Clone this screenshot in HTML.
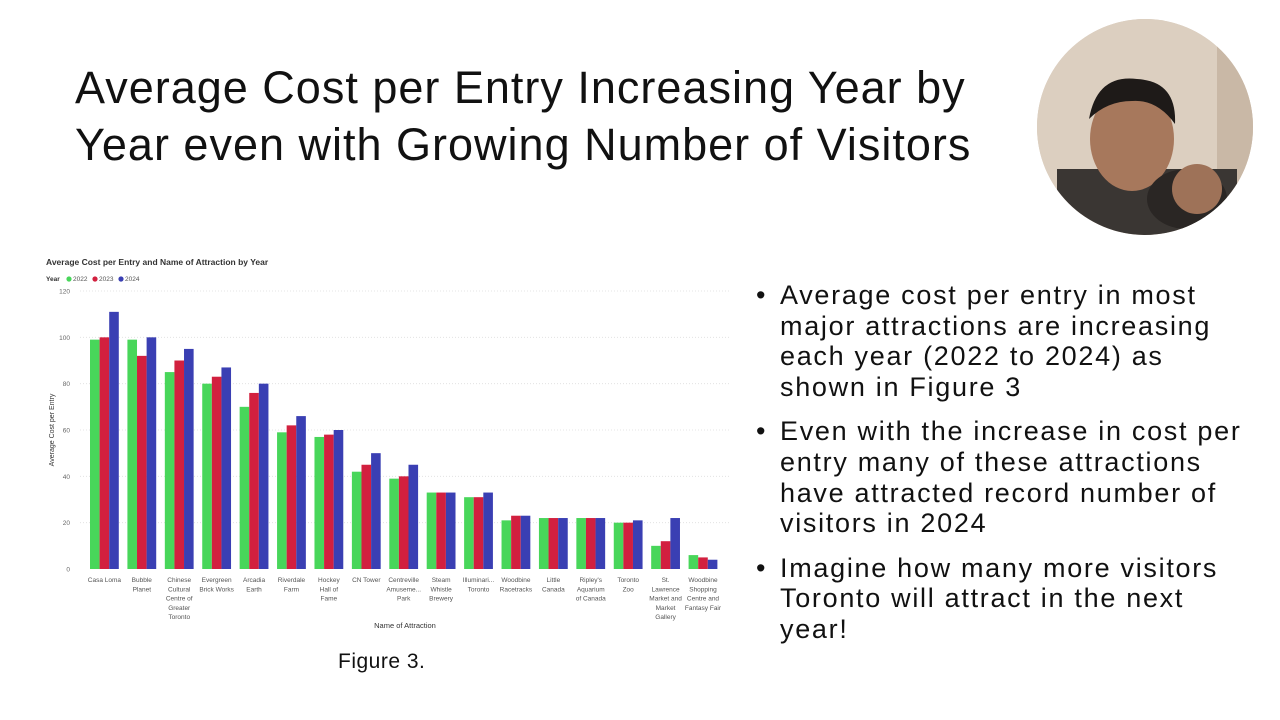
<!DOCTYPE html>
<html><head><meta charset="utf-8">
<style>
body{margin:0;width:1280px;height:720px;background:#fff;position:relative;overflow:hidden;font-family:"Liberation Sans",sans-serif;color:#111}
.title{position:absolute;left:75px;top:59px;font-size:45px;line-height:57px;letter-spacing:1px;white-space:nowrap}
.bullets{position:absolute;left:756px;top:280px;font-size:27px;line-height:30.6px;letter-spacing:1.7px;white-space:nowrap}
.bullet{position:relative;padding-left:24px;margin-bottom:14px}
.bullet:before{content:"•";position:absolute;left:0;top:0}
.fig{position:absolute;left:338px;top:650px;font-size:21px;letter-spacing:0.5px}
.cam{position:absolute;left:1037px;top:19px;width:216px;height:216px;border-radius:50%;overflow:hidden;background:#d8cbbc}
</style></head><body>
<div class="title">Average Cost per Entry Increasing Year by<br>Year even with Growing Number of Visitors</div>
<div class="cam">
<svg width="216" height="216">
<rect x="0" y="0" width="216" height="216" fill="#dccfc0"/>
<rect x="180" y="0" width="40" height="216" fill="#c9b8a6"/>
<rect x="20" y="150" width="180" height="70" fill="#3a3633"/>
<ellipse cx="95" cy="120" rx="42" ry="52" fill="#a7785c"/>
<path d="M52 100 Q60 55 100 60 Q140 62 138 105 Q120 80 95 82 Q70 82 52 100Z" fill="#1e1a18"/>
<ellipse cx="150" cy="180" rx="40" ry="30" fill="#2a2624"/>
<ellipse cx="160" cy="170" rx="25" ry="25" fill="#9e7258"/>
</svg></div>
<svg id="chart" style="position:absolute;left:0;top:0" width="740" height="640"></svg>
<div class="bullets">
<div class="bullet">Average cost per entry in most<br>major attractions are increasing<br>each year (2022 to 2024) as<br>shown in Figure 3</div>
<div class="bullet">Even with the increase in cost per<br>entry many of these attractions<br>have attracted record number of<br>visitors in 2024</div>
<div class="bullet">Imagine how many more visitors<br>Toronto will attract in the next<br>year!</div>
</div>
<div class="fig">Figure 3.</div>
<script>
const categories=[["Casa Loma"],["Bubble","Planet"],["Chinese","Cultural","Centre of","Greater","Toronto"],["Evergreen","Brick Works"],["Arcadia","Earth"],["Riverdale","Farm"],["Hockey","Hall of","Fame"],["CN Tower"],["Centreville","Amuseme...","Park"],["Steam","Whistle","Brewery"],["Illuminari...","Toronto"],["Woodbine","Racetracks"],["Little","Canada"],["Ripley's","Aquarium","of Canada"],["Toronto","Zoo"],["St.","Lawrence","Market and","Market","Gallery"],["Woodbine","Shopping","Centre and","Fantasy Fair"]];
const values2022=[99,99,85,80,70,59,57,42,39,33,31,21,22,22,20,10,6];
const values2023=[100,92,90,83,76,62,58,45,40,33,31,23,22,22,20,12,5];
const values2024=[111,100,95,87,80,66,60,50,45,33,33,23,22,22,21,22,4];
const yTicks=[0,20,40,60,80,100,120];
const seriesNames=["2022","2023","2024"];
const colors=["#48d65a","#d2203f","#3a3fb3"];
const svg=document.getElementById('chart');
const NS="http://www.w3.org/2000/svg";
const y0=569,y1=291,yMax=120,xL=86,xR=722;
const y=v=>y0-(v/yMax)*(y0-y1);
const gw=(xR-xL)/categories.length;
const bw=9.6;
function mk(t,a,txt){const e=document.createElementNS(NS,t);for(const k in a)e.setAttribute(k,a[k]);if(txt!=null)e.textContent=txt;svg.appendChild(e);return e;}
let e=mk('text',{x:46,y:265,'font-size':8.5,'font-weight':'bold',fill:'#333'},'Average Cost per Entry and Name of Attraction by Year');


e=mk('text',{x:46,y:281,'font-size':6.5,'font-weight':'bold',fill:'#333'},'Year');


seriesNames.forEach((n,i)=>{const lx=66+i*26;
e=mk('circle',{cx:lx+3,cy:279,r:2.6,fill:colors[i]});


e=mk('text',{x:lx+7,y:281,'font-size':6.5,fill:'#555'},n);

});
yTicks.forEach(t=>{
if(t>0){e=mk('line',{x1:80,x2:730,y1:y(t),y2:y(t),stroke:'#ddd','stroke-width':0.8,'stroke-dasharray':'1,2'});

}
e=mk('text',{x:70,y:y(t)+2.5,'font-size':6.5,fill:'#666','text-anchor':'end'},t);

});
e=mk('text',{x:0,y:0,'font-size':7,fill:'#333','text-anchor':'middle',transform:'translate(54,430) rotate(-90)'},'Average Cost per Entry');


const series=[values2022,values2023,values2024];
categories.forEach((c,i)=>{
const gx=xL+i*gw+4;
series.forEach((s,j)=>{
e=mk('rect',{x:gx+j*bw,y:y(s[i]),width:bw,height:y0-y(s[i]),fill:colors[j]});

});
c.forEach((ln,k)=>{
e=mk('text',{x:gx+1.5*bw,y:582+k*9.3,'font-size':6.5,fill:'#555','text-anchor':'middle'},ln);

});
});
e=mk('text',{x:405,y:628,'font-size':7.5,fill:'#333','text-anchor':'middle'},'Name of Attraction');


</script>
</body></html>
